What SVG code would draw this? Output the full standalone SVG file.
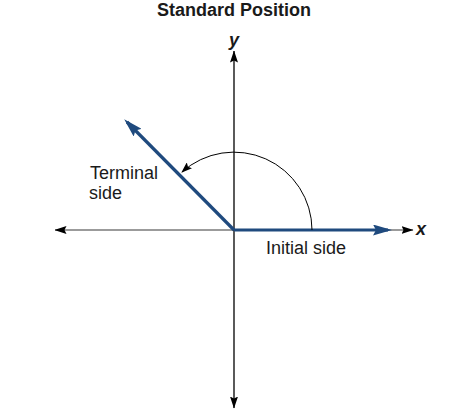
<svg xmlns="http://www.w3.org/2000/svg" width="474" height="409" viewBox="0 0 474 409">
<style>
  .t { font-family: "Liberation Sans", Arial, sans-serif; font-size: 18px; fill: #1a1a1a; }
  .title { font-weight: bold; text-anchor: middle; }
  .var { font-weight: bold; font-style: italic; }
  .axis { fill: none; stroke-width: 1.3; }
  .side { fill: none; stroke: #1f4a7e; stroke-width: 3.2; }
  .arc { fill: none; stroke: #000; stroke-width: 1; }
</style>
<defs>
  <marker id="axh" markerUnits="userSpaceOnUse" markerWidth="12" markerHeight="8" refX="11.5" refY="4" orient="auto-start-reverse" viewBox="0 0 12 8">
    <path d="M0,0 L12,4 L0,8 L2,4 z" fill="#000"/>
  </marker>
  <marker id="blh" markerUnits="userSpaceOnUse" markerWidth="19" markerHeight="11" refX="15" refY="5.5" orient="auto" viewBox="0 0 19 11">
    <path d="M0,0 L19,5.5 L0,11 L3,5.5 z" fill="#1f4a7e"/>
  </marker>
  <marker id="arh" markerUnits="userSpaceOnUse" markerWidth="11" markerHeight="8" refX="10" refY="4" orient="auto" viewBox="0 0 11 8">
    <path d="M0,0 L11,4 L0,8 L2,4 z" fill="#000"/>
  </marker>
</defs>
<g id="title">
  <text class="t title" x="234" y="16">Standard Position</text>
</g>
<g id="connectors">
  <line id="x-axis" class="axis" x1="55" y1="230" x2="413" y2="230" stroke="#7a7a7a" marker-start="url(#axh)" marker-end="url(#axh)"/>
  <line id="y-axis" class="axis" x1="234" y1="51" x2="234" y2="408" stroke="#000" marker-start="url(#axh)" marker-end="url(#axh)"/>
  <line id="initial-side" class="side" x1="234" y1="230" x2="388" y2="230" marker-end="url(#blh)"/>
  <line id="terminal-side" class="side" x1="234" y1="230" x2="127" y2="122" marker-end="url(#blh)"/>
  <path id="angle-arc" class="arc" d="M312,230 A78,78 0 0 0 182,172" marker-end="url(#arh)"/>
</g>
<g id="label-y">
  <text class="t var" x="229" y="46">y</text>
</g>
<g id="label-x">
  <text class="t var" x="416" y="235">x</text>
</g>
<g id="label-terminal">
  <text class="t" x="90" y="179">Terminal</text>
  <text class="t" x="89" y="199">side</text>
</g>
<g id="label-initial">
  <text class="t" x="266" y="254">Initial side</text>
</g>
</svg>
